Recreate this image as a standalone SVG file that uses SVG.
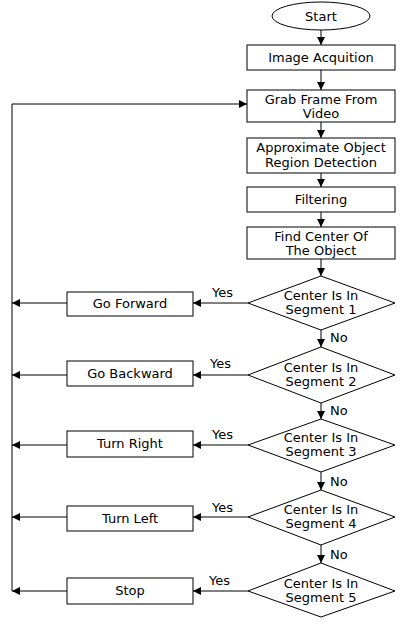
<svg xmlns="http://www.w3.org/2000/svg" width="415" height="624" viewBox="0 0 415 624">
<defs>
<marker id="ah" viewBox="0 0 10 10" refX="10" refY="5" markerWidth="8" markerHeight="8" markerUnits="userSpaceOnUse" orient="auto">
<path d="M0,0 L10,5 L0,10 z" fill="#000"/>
</marker>
<style>
.n{fill:#fff;stroke:#000;stroke-width:1}
.t{font-family:"DejaVu Sans",Verdana,sans-serif;font-size:13px;fill:#000;text-anchor:middle}
.l{font-family:"DejaVu Sans",Verdana,sans-serif;font-size:13px;fill:#000}
.c{fill:none;stroke:#000;stroke-width:1;marker-end:url(#ah)}
.p{fill:none;stroke:#000;stroke-width:1}
</style>
</defs>
<rect width="415" height="624" fill="#fff"/>
<g id="connectors">
<path class="c" d="M321,30 V45"/>
<path class="c" d="M321,70 V90"/>
<path class="c" d="M321,122 V138"/>
<path class="c" d="M321,173 V187"/>
<path class="c" d="M321,212 V227"/>
<path class="c" d="M321,259 V276"/>
<path class="c" d="M321,330 V347"/>
<path class="c" d="M321,403 V419"/>
<path class="c" d="M321,472 V490"/>
<path class="c" d="M321,545 V563"/>
<path class="c" d="M248,303 H193"/>
<path class="c" d="M248,375 H193"/>
<path class="c" d="M248,445 H193"/>
<path class="c" d="M248,517 H193"/>
<path class="c" d="M248,591 H193"/>
<path class="c" d="M67,303 H12"/>
<path class="c" d="M67,375 H12"/>
<path class="c" d="M67,445 H12"/>
<path class="c" d="M67,517 H12"/>
<path class="c" d="M67,591 H12"/>
<path class="p" d="M12,591 V104"/>
<path class="c" d="M12,104 H247"/>
<text class="l" x="212" y="297">Yes</text>
<text class="l" x="210" y="368">Yes</text>
<text class="l" x="212" y="439">Yes</text>
<text class="l" x="212" y="512">Yes</text>
<text class="l" x="209" y="585">Yes</text>
<text class="l" x="330" y="342">No</text>
<text class="l" x="330" y="415">No</text>
<text class="l" x="330" y="486">No</text>
<text class="l" x="330" y="559">No</text>
</g>
<g id="start"><ellipse class="n" cx="321" cy="16" rx="49" ry="14"/><text class="t" x="321" y="21">Start</text></g>
<g id="acq"><rect class="n" x="247" y="45" width="148" height="25"/><text class="t" x="321" y="62">Image Acquition</text></g>
<g id="grab"><rect class="n" x="247" y="90" width="148" height="32"/><text class="t" x="321" y="104">Grab Frame From</text><text class="t" x="321" y="118">Video</text></g>
<g id="approx"><rect class="n" x="247" y="138" width="148" height="35"/><text class="t" x="321" y="152">Approximate Object</text><text class="t" x="321" y="167">Region Detection</text></g>
<g id="filter"><rect class="n" x="247" y="187" width="148" height="25"/><text class="t" x="321" y="204">Filtering</text></g>
<g id="find"><rect class="n" x="247" y="227" width="148" height="32"/><text class="t" x="321" y="241">Find Center Of</text><text class="t" x="321" y="255">The Object</text></g>
<g id="d1"><polygon class="n" points="321,276 395,303 321,330 248,303"/><text class="t" x="321" y="300">Center Is In</text><text class="t" x="321" y="314">Segment 1</text></g>
<g id="d2"><polygon class="n" points="321,347 395,375 321,403 248,375"/><text class="t" x="321" y="372">Center Is In</text><text class="t" x="321" y="386">Segment 2</text></g>
<g id="d3"><polygon class="n" points="321,419 395,445 321,472 248,445"/><text class="t" x="321" y="442">Center Is In</text><text class="t" x="321" y="456">Segment 3</text></g>
<g id="d4"><polygon class="n" points="321,490 395,517 321,545 248,517"/><text class="t" x="321" y="514">Center Is In</text><text class="t" x="321" y="528">Segment 4</text></g>
<g id="d5"><polygon class="n" points="321,563 395,591 321,617 248,591"/><text class="t" x="321" y="588">Center Is In</text><text class="t" x="321" y="602">Segment 5</text></g>
<g id="fwd"><rect class="n" x="67" y="292" width="126" height="24"/><text class="t" x="130" y="308">Go Forward</text></g>
<g id="back"><rect class="n" x="67" y="361" width="126" height="25"/><text class="t" x="130" y="378">Go Backward</text></g>
<g id="right"><rect class="n" x="67" y="431" width="126" height="26"/><text class="t" x="130" y="448">Turn Right</text></g>
<g id="left"><rect class="n" x="67" y="506" width="126" height="25"/><text class="t" x="130" y="523">Turn Left</text></g>
<g id="stop"><rect class="n" x="67" y="578" width="126" height="26"/><text class="t" x="130" y="595">Stop</text></g>
</svg>
